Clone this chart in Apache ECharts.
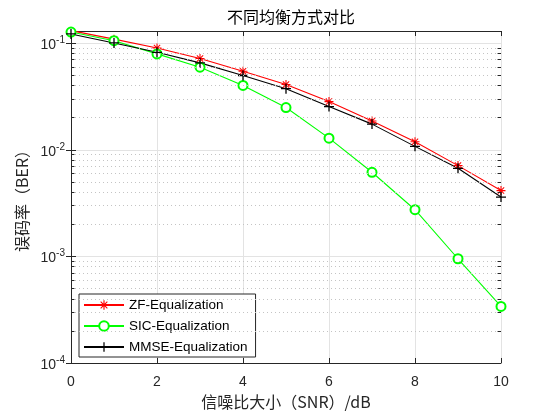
<!DOCTYPE html>
<html lang="zh">
<head>
  <meta charset="UTF-8">
  <title>不同均衡方式对比</title>
  <script src="https://cdn.jsdelivr.net/npm/echarts@6.0.0/dist/echarts.min.js"></script>
  <style>
    html, body { margin: 0; padding: 0; background: #fff; }
  </style>
</head>
<body>
  <div id="main" style="width: 554px;height:415px;"></div>
  <script type="text/javascript">
    // data
    var snr = [0, 1, 2, 3, 4, 5, 6, 7, 8, 9, 10];
    var zfBer = [0.131, 0.109, 0.090, 0.0717, 0.0546, 0.0410, 0.0283, 0.0186, 0.0119, 0.0071, 0.00414];
    var sicBer = [0.127, 0.1055, 0.0793, 0.0595, 0.0401, 0.0249, 0.01285, 0.00615, 0.00274, 0.00095, 0.000339];
    var mmseBer = [0.122, 0.1004, 0.0821, 0.0653, 0.0497, 0.0374, 0.0254, 0.0174, 0.01076, 0.0067, 0.0036];
    var yMajorTicks = [1e-4, 1e-3, 1e-2, 1e-1];
    var xTicks = [0, 2, 4, 6, 8, 10];

    var yMin = 1e-4, yMax = 0.13;
    var axisColor = '#262626';
    var latin = '"Liberation Sans", Arial, sans-serif';
    var cjk = '"Noto Sans CJK SC", "Liberation Sans", sans-serif';

    // minor decades 2..9 x 10^k
    var minorVals = [];
    for (var e = -4; e <= -1; e++) {
      for (var k = 2; k <= 9; k++) {
        var v = k * Math.pow(10, e);
        if (v < yMax) minorVals.push(v);
      }
    }

    // MATLAB style markers
    var starPath = 'path://M0,4.4H10V5.6H0Z M4.4,0H5.6V10H4.4Z M1.1,1.9L1.9,1.1L8.9,8.1L8.1,8.9Z M8.1,1.1L8.9,1.9L1.9,8.9L1.1,8.1Z';
    var plusPath = 'path://M0,4.35H10V5.65H0Z M4.35,0H5.65V10H4.35Z';

    function pair(x, y) {
      return x.map(function (s, i) { return [s, y[i]]; });
    }

    // dotted minor grid and short minor ticks, placed through the axes
    var minorGrid = minorVals.map(function (v) { return { yAxis: v }; });
    var minorTicks = [];
    minorVals.forEach(function (v) {
      minorTicks.push([{ coord: [0, v] }, { coord: [0.08, v] }]);
      minorTicks.push([{ coord: [9.92, v] }, { coord: [10, v] }]);
    });

    var myChart = echarts.init(document.getElementById('main'));

    var option = {
      animation: false,
      backgroundColor: '#fff',
      title: {
        text: '不同均衡方式对比',
        left: 286,
        top: 4,
        textAlign: 'center',
        textStyle: { fontFamily: cjk, fontSize: 16, fontWeight: 'normal', color: '#000' }
      },
      grid: { left: 71, right: 53, top: 31, bottom: 50 },
      legend: {
        data: ['ZF-Equalization', 'SIC-Equalization', 'MMSE-Equalization'],
        orient: 'vertical',
        left: 79,
        top: 294,
        backgroundColor: '#fff',
        borderColor: axisColor,
        borderWidth: 1,
        padding: [4, 8, 3, 4],
        itemGap: 7,
        itemWidth: 40,
        itemHeight: 12,
        textStyle: { fontFamily: latin, fontSize: 13.5, color: '#000' }
      },
      xAxis: [{
        type: 'value',
        min: 0,
        max: 10,
        interval: 2,
        position: 'bottom',
        name: '信噪比大小（SNR）/dB',
        nameLocation: 'middle',
        nameGap: 31,
        nameTextStyle: { fontFamily: cjk, fontSize: 16, color: axisColor },
        axisLine: { lineStyle: { color: axisColor, width: 1 } },
        axisTick: { inside: true, length: 5, lineStyle: { color: axisColor } },
        axisLabel: { fontFamily: latin, fontSize: 14, color: axisColor, margin: 12 },
        splitLine: { show: true, lineStyle: { color: '#e3e3e3', width: 1 } }
      }, {
        type: 'value',
        min: 0,
        max: 10,
        interval: 2,
        position: 'top',
        axisLine: { lineStyle: { color: axisColor, width: 1 } },
        axisTick: { inside: true, length: 5, lineStyle: { color: axisColor } },
        axisLabel: { show: false },
        splitLine: { show: false }
      }],
      yAxis: [{
        type: 'log',
        logBase: 10,
        min: yMin,
        max: yMax,
        position: 'left',
        name: '误码率（BER）',
        nameLocation: 'middle',
        nameGap: 41,
        nameTextStyle: { fontFamily: cjk, fontSize: 16, color: axisColor },
        axisLine: { show: true, lineStyle: { color: axisColor, width: 1 } },
        axisTick: { inside: true, length: 5, lineStyle: { color: axisColor } },
        axisLabel: {
          fontFamily: latin,
          color: axisColor,
          margin: 6,
          formatter: function (v) {
            var p = Math.log10(v);
            var e = Math.round(p);
            if (Math.abs(p - e) > 1e-6) return '';
            return '{b|10}{s|' + e + '}';
          },
          rich: {
            b: { fontFamily: latin, fontSize: 14, color: axisColor, padding: [4, 0, 0, 0] },
            s: { fontFamily: latin, fontSize: 10, color: axisColor, padding: [0, 0, 6, 0] }
          }
        },
        splitLine: { show: true, lineStyle: { color: '#e3e3e3', width: 1 } }
      }, {
        type: 'log',
        logBase: 10,
        min: yMin,
        max: yMax,
        position: 'right',
        axisLine: { show: true, lineStyle: { color: axisColor, width: 1 } },
        axisTick: { inside: true, length: 5, lineStyle: { color: axisColor } },
        axisLabel: { show: false },
        splitLine: { show: false }
      }],
      series: [{
        name: 'grid-minor',
        type: 'line',
        data: [],
        z: 1,
        silent: true,
        markLine: {
          silent: true,
          symbol: 'none',
          precision: 12,
          label: { show: false },
          lineStyle: { type: [1, 3], color: '#c4c4c4', width: 1 },
          data: minorGrid
        }
      }, {
        name: 'ZF-Equalization',
        type: 'line',
        data: pair(snr, zfBer),
        symbol: starPath,
        symbolSize: 9,
        showAllSymbol: true,
        z: 4,
        itemStyle: { color: '#ff0000' },
        lineStyle: { color: '#ff0000', width: 1.1 },
        markLine: {
          silent: true,
          symbol: 'none',
          precision: 12,
          label: { show: false },
          lineStyle: { type: 'solid', color: axisColor, width: 1 },
          data: minorTicks
        }
      }, {
        name: 'SIC-Equalization',
        type: 'line',
        data: pair(snr, sicBer),
        symbol: 'emptyCircle',
        symbolSize: 9,
        showAllSymbol: true,
        z: 4,
        itemStyle: { color: '#00ff00', borderWidth: 1.6 },
        lineStyle: { color: '#00ff00', width: 1.1 }
      }, {
        name: 'MMSE-Equalization',
        type: 'line',
        data: pair(snr, mmseBer),
        symbol: plusPath,
        symbolSize: 10,
        showAllSymbol: true,
        z: 4,
        itemStyle: { color: '#000000' },
        lineStyle: { color: '#000000', width: 1.1 }
      }]
    };

    myChart.setOption(option);
  </script>
</body>
</html>
